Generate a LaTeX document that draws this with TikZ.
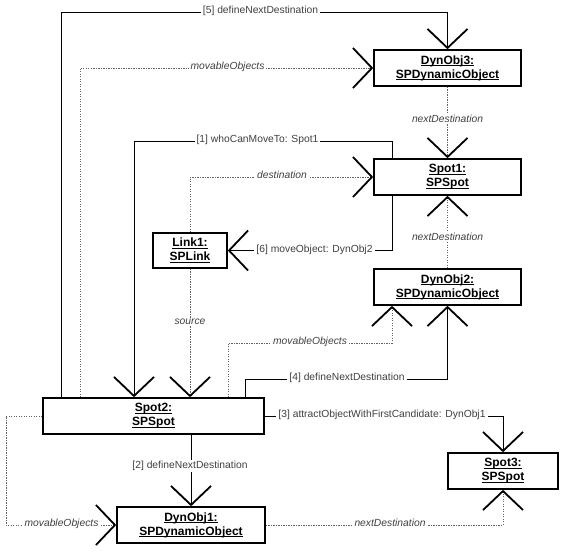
\documentclass[tikz,border=0pt]{standalone}
\usepackage{fontspec}
\setmainfont{Liberation Sans}
\usetikzlibrary{arrows.meta,calc}
\newcommand\ulbox[1]{\leavevmode\setbox0\hbox{#1}\rlap{\rule[-2.2pt]{\wd0}{0.9pt}}\box0}
\begin{document}
\begin{tikzpicture}[x=1pt,y=-1pt,
  obj/.style={draw, line width=1.6pt, fill=white, inner sep=0pt, align=center,
    minimum height=36pt, font=\bfseries\fontsize{12}{14}\selectfont},
  vtip/.tip={Straight Barb[length=19pt,width=40pt,line width=1.8pt,color=black]},
  msg/.style={draw, line width=1pt, -vtip},
  dep/.style={draw, black!62, line width=0.9pt, dash pattern=on 1.2pt off 1.3pt, -vtip},
  lbl/.style={fill=white, inner xsep=2pt, inner ysep=1pt, font=\fontsize{10.3}{12}\selectfont, text=black!75},
  ilbl/.style={lbl, font=\itshape\fontsize{10.3}{12}\selectfont},
]
\useasboundingbox (0,0) rectangle (564,551);

% objects
\node[obj, minimum width=147pt] (dyn3) at (447.5,68) {\ulbox{DynObj3:}\\\ulbox{SPDynamicObject}};
\node[obj, minimum width=147pt] (spot1) at (447.5,177) {\ulbox{Spot1:}\\\ulbox{SPSpot}};
\node[obj, minimum width=147pt] (dyn2) at (447.5,287) {\ulbox{DynObj2:}\\\ulbox{SPDynamicObject}};
\node[obj, minimum width=74pt, minimum height=35pt] (link1) at (190,250.5) {\ulbox{Link1:}\\\ulbox{SPLink}};
\node[obj, minimum width=221pt] (spot2) at (153.5,416) {\ulbox{Spot2:}\\\ulbox{SPSpot}};
\node[obj, minimum width=110pt] (spot3) at (503,471) {\ulbox{Spot3:}\\\ulbox{SPSpot}};
\node[obj, minimum width=148pt] (dyn1) at (191,525) {\ulbox{DynObj1:}\\\ulbox{SPDynamicObject}};

% bend points
\coordinate (c5) at (61,13);
\coordinate (cm3) at (80,68);
\coordinate (c1) at (134,141);
\coordinate (c6) at (392,250);
\coordinate (cm2) at (228,343);
\coordinate (c4) at (245,379);
\coordinate (cm1) at (6,525);

% connectors
\draw[msg] (spot2.north -| c5) |- (c5) -| (dyn3.north);
\draw[dep] (spot2.north -| cm3) |- (dyn3.west);
\draw[dep] (dyn3.south) -- (spot1.north);
\draw[msg] (spot1.north -| c6) |- (c1) -- (spot2.north -| c1);
\draw[dep] (link1.north) |- (spot1.west);
\draw[msg] (spot1.south -| c6) |- (link1.east);
\draw[dep] (dyn2.north) -- (spot1.south);
\draw[dep] (link1.south) -- (spot2.north -| link1.south);
\draw[dep] (spot2.north -| cm2) |- (cm2 -| c6) -- (dyn2.south -| c6);
\draw[msg] (spot2.north -| c4) |- (c4) -| (dyn2.south);
\draw[msg] (spot2.east) -| (spot3.north);
\draw[msg] (spot2.south -| dyn1.north) -- (dyn1.north);
\draw[dep] (spot2.west) -| (cm1) -- (dyn1.west);
\draw[dep] (dyn1.east) -| (spot3.south);

% labels
\node[lbl, anchor=base] (l5) at (260.5,14) {[5] defineNextDestination};
\node[ilbl, anchor=base] (lm3) at (227.5,69) {movableObjects};
\node[ilbl] (ln3) at (447.5,119) {nextDestination};
\node[lbl, anchor=base] (l1) at (257.5,142) {[1] whoCanMoveTo: Spot1};
\node[ilbl, anchor=base] (ld) at (282,178) {destination};
\node[lbl, anchor=base] (l6) at (314.5,252) {[6] moveObject: DynObj2};
\node[ilbl] (ln2) at (447.5,237) {nextDestination};
\node[ilbl] (ls) at (190,322) {source};
\node[ilbl, anchor=base] (lm2) at (310,344) {movableObjects};
\node[lbl, anchor=base] (l4) at (347,380) {[4] defineNextDestination};
\node[lbl, anchor=base] (l3) at (382,417) {[3] attractObjectWithFirstCandidate: DynObj1};
\node[lbl] (l2) at (190,466) {[2] defineNextDestination};
\node[ilbl, anchor=base] (lm1) at (61.5,526) {movableObjects};
\node[ilbl, anchor=base] (ln1) at (390,526) {nextDestination};
\end{tikzpicture}
\end{document}
